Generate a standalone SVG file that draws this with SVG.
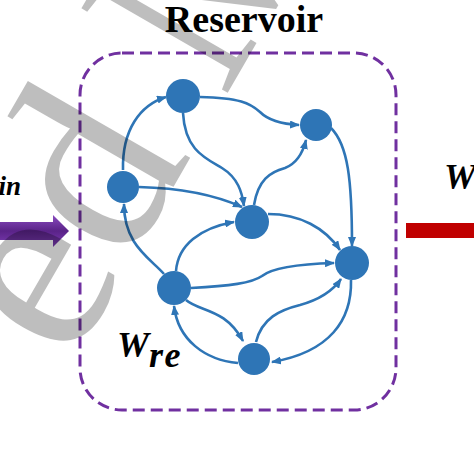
<svg xmlns="http://www.w3.org/2000/svg" width="474" height="474" viewBox="0 0 474 474">
<style>
.node{fill:#2e75b6}
.edge{fill:none;stroke:#2e75b6;stroke-width:2.6;marker-end:url(#ah)}
.lbl{font-family:"Liberation Serif","DejaVu Serif",serif;font-weight:bold;font-style:italic;fill:#000}
</style>
<defs>
<marker id="ah" viewBox="0 0 10 8" refX="9" refY="4" markerWidth="10" markerHeight="8" markerUnits="userSpaceOnUse" orient="auto">
<path d="M0,0 L10,4 L0,8 z" fill="#2e75b6"/>
</marker>
<linearGradient id="pg" x1="0" y1="0" x2="0" y2="1">
<stop offset="0" stop-color="#8a4cc0"/>
<stop offset="0.5" stop-color="#5a2388"/>
<stop offset="1" stop-color="#7d3db5"/>
</linearGradient>
</defs>
<rect width="474" height="474" fill="#fff"/>
<text x="244" y="32" text-anchor="middle" font-family="'Liberation Serif','DejaVu Serif',serif" font-weight="bold" font-size="38">Reservoir</text>
<rect id="reservoir" x="80" y="53" width="316" height="357" rx="42" ry="42" fill="none" stroke="#7030a0" stroke-width="3" stroke-dasharray="12 6"/>
<g id="input">
<path d="M0,222 L53,222 L53,215 L69,231 L53,247 L53,240 L0,240 z" fill="url(#pg)"/>
<text class="lbl" x="21" y="195" font-size="27" text-anchor="end">in</text>
</g>
<g id="output">
<rect x="406" y="223" width="68" height="15" fill="#c00000"/>
<text class="lbl" x="444" y="189" font-size="36">W</text>
</g>
<text class="lbl" x="117" y="357" font-size="36">W<tspan font-size="36" dy="10" letter-spacing="1.5">re</tspan></text>
<g id="edges">
<path class="edge" d="M123,170 C122,130 140,105 166,97"/>
<path class="edge" d="M200,97 C240,98 250,103 260,112 C268,120 280,124 299,125"/>
<path class="edge" d="M183,113 C185,150 205,158 222,168 C238,178 242,192 244,206"/>
<path class="edge" d="M139,187 C180,188 215,195 242,207"/>
<path class="edge" d="M254,205 C258,180 270,172 285,168 C298,163 303,152 306,140"/>
<path class="edge" d="M331,128 C348,145 352,180 352,246"/>
<path class="edge" d="M268,214 C300,214 325,228 340,250"/>
<path class="edge" d="M164,274 C150,258 124,245 124,204"/>
<path class="edge" d="M176,271 C178,245 200,228 234,222"/>
<path class="edge" d="M191,288 C230,286 252,283 262,276 C272,268 300,264 334,263"/>
<path class="edge" d="M256,342 C262,318 280,310 300,305 C318,300 332,292 341,279"/>
<path class="edge" d="M186,300 C200,312 225,308 243,341"/>
<path class="edge" d="M351,280 C352,320 330,352 272,362"/>
<path class="edge" d="M238,363 C205,360 178,340 174,306"/>
</g>
<g id="A"><circle class="node" cx="183" cy="96" r="17"/></g>
<g id="B"><circle class="node" cx="316" cy="125" r="16"/></g>
<g id="C"><circle class="node" cx="123" cy="187" r="16"/></g>
<g id="D"><circle class="node" cx="252" cy="222" r="17"/></g>
<g id="E"><circle class="node" cx="352" cy="263" r="17"/></g>
<g id="F"><circle class="node" cx="174" cy="288" r="17"/></g>
<g id="G"><circle class="node" cx="254" cy="359" r="16"/></g>
<g id="watermark" opacity="0.25">
<text transform="translate(70,366) rotate(-60)" font-family="'Liberation Serif','DejaVu Serif',serif" font-size="258" fill="#000">ed M</text>
</g>
</svg>
